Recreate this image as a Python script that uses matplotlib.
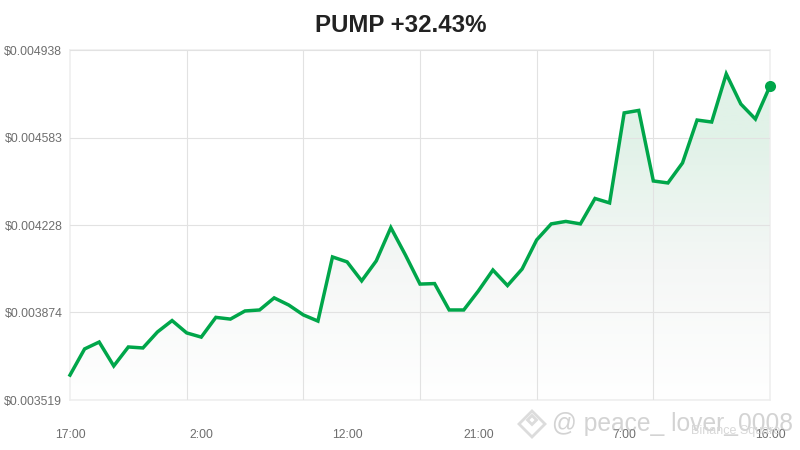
import matplotlib
matplotlib.use('Agg')
import matplotlib.pyplot as plt
import numpy as np
from matplotlib.patches import Polygon
from matplotlib.colors import LinearSegmentedColormap

plt.rcParams['font.family'] = ['Liberation Sans', 'DejaVu Sans']

title = 'PUMP +32.43%'
prices = [0.003620, 0.003726, 0.003754, 0.003657, 0.003734, 0.003730, 0.003795, 0.003841,
          0.003791, 0.003774, 0.003854, 0.003847, 0.003880, 0.003884, 0.003933, 0.003904,
          0.003864, 0.003839, 0.004099, 0.004079, 0.004002, 0.004083, 0.004218, 0.004107,
          0.003989, 0.003991, 0.003884, 0.003884, 0.003961, 0.004046, 0.003983, 0.004050,
          0.004168, 0.004233, 0.004243, 0.004233, 0.004336, 0.004318, 0.004683, 0.004693,
          0.004407, 0.004399, 0.004480, 0.004654, 0.004646, 0.004841, 0.004719, 0.004658,
          0.004792]
y_ticks = [0.003519, 0.003874, 0.004228, 0.004583, 0.004938]
x_tick_pos = [0, 9, 19, 28, 38, 48]
x_tick_labels = ['17:00', '2:00', '12:00', '21:00', '7:00', '16:00']
grid_pos = [8, 16, 24, 32, 40]

GREEN = '#00a64a'

fig = plt.figure(figsize=(8, 4.5), dpi=100)
ax = fig.add_axes([70 / 800, 50 / 450, 700 / 800, 350 / 450])

x = np.arange(len(prices))
ax.set_xlim(0, 48)
ax.set_ylim(y_ticks[0], y_ticks[-1])

# gradient under the line, clipped to the area below it
cmap = LinearSegmentedColormap.from_list('fade', ['#ffffff', '#f5f7f6', '#e1f2e8'])
grad = np.linspace(1, 0, 256).reshape(-1, 1)
extent = (0, 48, y_ticks[0], y_ticks[-1])
img = ax.imshow(grad, cmap=cmap, extent=extent, aspect='auto', zorder=1, vmin=0.0, vmax=0.75)
clip = Polygon(list(zip(x, prices)) + [(48, y_ticks[0]), (0, y_ticks[0])], closed=True,
               transform=ax.transData, facecolor='none', edgecolor='none')
ax.add_patch(clip)
img.set_clip_path(clip)

ax.set_yticks(y_ticks)
ax.set_yticklabels([f'${v:.6f}' for v in y_ticks])
ax.set_xticks(x_tick_pos)
ax.set_xticklabels(x_tick_labels)
ax.set_xticks(grid_pos, minor=True)
ax.tick_params(axis='both', which='both', length=0, labelsize=8.8, labelcolor='#6e6e6e')
ax.tick_params(axis='x', pad=21)
ax.tick_params(axis='y', pad=5.5)
ax.grid(True, axis='y', which='major', color='#e2e2e2', lw=0.8, zorder=2)
ax.grid(True, axis='x', which='minor', color='#e2e2e2', lw=0.8, zorder=2)
ax.set_axisbelow(False)
for spine in ax.spines.values():
    spine.set_color('#eeeeee')
    spine.set_linewidth(1.1)

ax.plot(x, prices, color=GREEN, lw=2.5, zorder=4, solid_joinstyle='miter', clip_on=False)
ax.plot(x[-1], prices[-1], 'o', color=GREEN, ms=8, mew=0, zorder=5, clip_on=False)

fig.text(0.5 + 0.5 / 800, 1 - 25 / 450, title, ha='center', va='center', fontsize=17.3,
         fontweight='bold', color='#222222')

# watermark
fig.text(552 / 800, 1 - 424 / 450, '@ peace_ lover_0008', ha='left', va='center', fontsize=17.7,
         color='#a8a8a8', alpha=0.5, zorder=1)
fig.text(691 / 800, 1 - 431 / 450, 'Binance Square', ha='left', va='center', fontsize=9,
         color='#d8d8d8', zorder=1)
for cx, cy, s in [(532, 424, 13), (532, 420, 4.5)]:
    pts = [((cx + dx) / 800, 1 - (cy + dy) / 450) for dx, dy in [(0, -s), (s, 0), (0, s), (-s, 0)]]
    fig.add_artist(Polygon(pts, closed=True, transform=fig.transFigure, facecolor='none',
                           edgecolor='#dcdcdc', lw=2, zorder=1))

fig.savefig('out.png', dpi=100)
